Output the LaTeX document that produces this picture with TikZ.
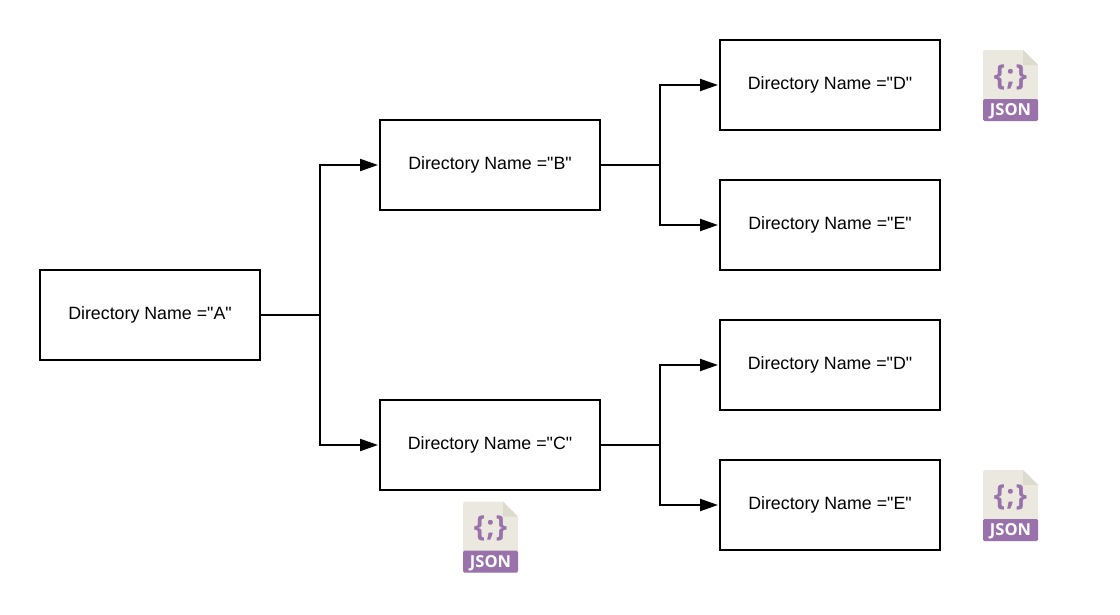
\documentclass[tikz,border=0pt]{standalone}
\usepackage{xcolor}
\usepackage{fontspec}
\newfontfamily\dirfont{Liberation Sans}
\newfontfamily\jsonfont{Open Sans}
\usetikzlibrary{arrows.meta}
\definecolor{jsonpaper}{HTML}{EBE9DF}
\definecolor{jsonfold}{HTML}{DDDBCD}
\definecolor{jsonpurple}{HTML}{9A72AB}
\tikzset{
    dirbox/.style={draw, line width=2pt, minimum width=220pt, minimum height=90pt, inner sep=0pt,
        font=\dirfont\fontsize{17.8}{20}\selectfont},
    link/.style={draw, line width=2pt, shorten >=1pt, -{Triangle[length=18pt,width=12pt]}},
    jsonfile/.pic={
        \fill[jsonpaper, rounded corners=1.5pt] (0,0) -- (40,0) -- (55,15) -- (55,71) -- (0,71) -- cycle;
        \fill[jsonfold] (40,0) -- (55,15) -- (40,15) -- cycle;
        \fill[jsonpurple, rounded corners=1.5pt] (0,49) rectangle (55,71);
        \node[text=jsonpurple, inner sep=0pt, font=\jsonfont\bfseries\fontsize{29}{32}\selectfont] at (27.5,27) {\{\kern1pt;\kern1pt\}};
        \node[text=white, inner sep=0pt, font=\jsonfont\bfseries\fontsize{16.5}{20}\selectfont] at (27.5,61.5) {JSON};
    }
}
\begin{document}
\begin{tikzpicture}[x=1pt, y=-1pt]
    \useasboundingbox (0,0) rectangle (1120,614);
    \node[dirbox] (a) at (150,315) {Directory Name ="A"};
    \node[dirbox] (b) at (490,165) {Directory Name ="B"};
    \node[dirbox] (c) at (490,445) {Directory Name ="C"};
    \node[dirbox] (bd) at (830,85) {Directory Name ="D"};
    \node[dirbox] (be) at (830,225) {Directory Name ="E"};
    \node[dirbox] (cd) at (830,365) {Directory Name ="D"};
    \node[dirbox] (ce) at (830,505) {Directory Name ="E"};
    \draw[link] (a.east) -- ++(59,0) |- (b.west);
    \draw[link] (a.east) -- ++(59,0) |- (c.west);
    \draw[link] (b.east) -- ++(59,0) |- (bd.west);
    \draw[link] (b.east) -- ++(59,0) |- (be.west);
    \draw[link] (c.east) -- ++(59,0) |- (cd.west);
    \draw[link] (c.east) -- ++(59,0) |- (ce.west);
    \pic at (983,50) {jsonfile};
    \pic at (983,470) {jsonfile};
    \pic at (463,501.5) {jsonfile};
\end{tikzpicture}
\end{document}
